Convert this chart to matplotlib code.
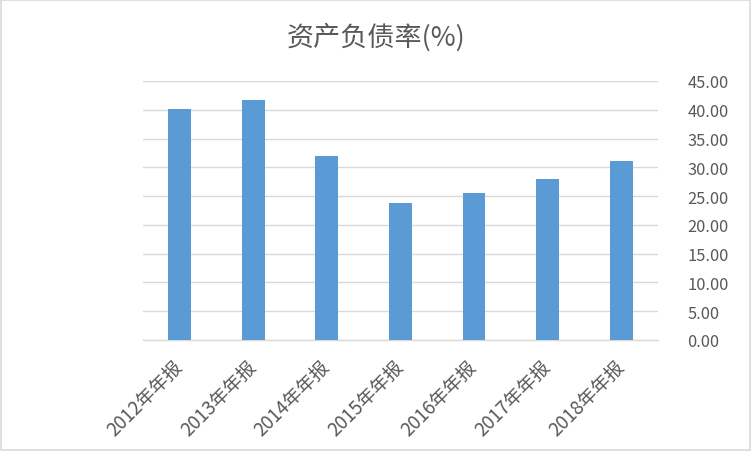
import matplotlib
matplotlib.use("Agg")
import matplotlib.pyplot as plt
from matplotlib.patches import Rectangle

plt.rcParams['font.family'] = ['Noto Sans CJK SC', 'DejaVu Sans']

years = ['2012年年报', '2013年年报', '2014年年报', '2015年年报',
         '2016年年报', '2017年年报', '2018年年报']
debt_ratio = [40.17, 41.74, 32.04, 23.73, 25.47, 27.90, 31.17]
y_ticks = [0, 5, 10, 15, 20, 25, 30, 35, 40, 45]

bar_color = '#5B9BD5'
text_color = '#595959'
grid_color = '#D9D9D9'

fig = plt.figure(figsize=(7.52, 4.52), dpi=100)
ax = fig.add_axes([0.190, 0.2456, 0.685, 0.573])

x = range(len(years))
ax.bar(x, debt_ratio, width=0.31, color=bar_color, zorder=3)

ax.set_xlim(-0.5, len(years) - 0.5)
ax.set_ylim(0, 45)
ax.set_yticks(y_ticks)
ax.set_yticklabels([f'{v:.2f}' for v in y_ticks])
ax.yaxis.tick_right()
ax.tick_params(axis='y', length=0, pad=21, labelsize=11.8, labelcolor=text_color)
ax.yaxis.grid(True, color=grid_color, linewidth=1.0, zorder=0)

ax.set_xticks(list(x))
ax.set_xticklabels(years, rotation=45, ha='right', va='center',
                   rotation_mode='anchor', fontsize=13.5, color=text_color)
ax.tick_params(axis='x', length=0, pad=17)

for side in ['top', 'left', 'right']:
    ax.spines[side].set_visible(False)
ax.spines['bottom'].set_color(grid_color)
ax.spines['bottom'].set_linewidth(1.0)

fig.text(0.5, 0.917, '资产负债率(%)', ha='center', va='center',
         fontsize=19.5, color=text_color)

fig.patches.append(Rectangle((0.001, 0.002), 0.997, 0.996, transform=fig.transFigure,
                             fill=False, edgecolor=grid_color, linewidth=1.2))

fig.savefig('out.png', dpi=100)
